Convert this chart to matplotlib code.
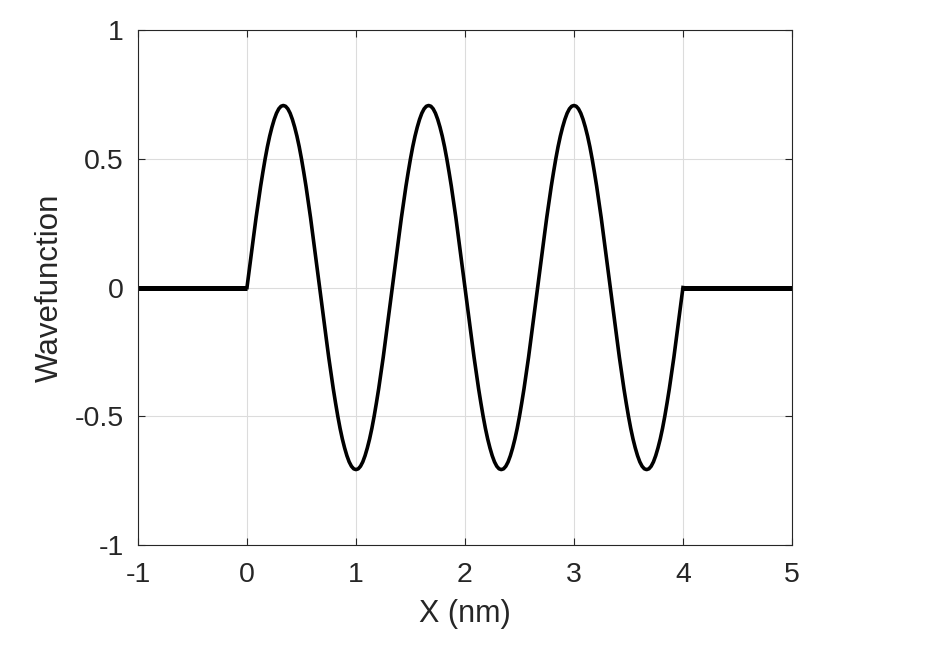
import numpy as np
import matplotlib
matplotlib.use("Agg")
import matplotlib.pyplot as plt

plt.rcParams['font.family'] = ['Liberation Sans', 'DejaVu Sans']

half_up = [0.0, 0.069, 0.138, 0.204, 0.271, 0.333, 0.393, 0.448, 0.500,
           0.547, 0.588, 0.623, 0.653, 0.677, 0.694, 0.704, 0.707,
           0.704, 0.694, 0.677, 0.653, 0.623, 0.588, 0.547, 0.500,
           0.448, 0.393, 0.333, 0.271, 0.204, 0.138, 0.069]
half_dn = [-v for v in half_up]
psi_in = half_up + half_dn + half_up + half_dn + half_up + half_dn + [0.0]
x_in = np.linspace(0, 4, len(psi_in))

# outside the well
x_left = [-1, 0]
psi_left = [0, 0]
x_right = [4, 5]
psi_right = [0, 0]

xticks = [-1, 0, 1, 2, 3, 4, 5]
yticks = [-1, -0.5, 0, 0.5, 1]
yticklabels = ['-1', '-0.5', '0', '0.5', '1']

fig = plt.figure(figsize=(9.38, 6.46), dpi=100)
ax = fig.add_axes([0.1471, 0.1563, 0.6972, 0.7972])

ax.plot(x_left, psi_left, color='k', lw=3.6, solid_capstyle='butt')
ax.plot(x_right, psi_right, color='k', lw=3.6, solid_capstyle='butt')
ax.plot(x_in, psi_in, color='k', lw=2.6, solid_joinstyle='round')

ax.set_xlim(-1, 5)
ax.set_ylim(-1, 1)
ax.set_xticks(xticks)
ax.set_xticklabels([str(t) for t in xticks])
ax.set_yticks(yticks)
ax.set_yticklabels(yticklabels)
ax.grid(True, color='#dcdcdc', lw=0.8)
ax.set_axisbelow(True)
ax.tick_params(direction='in', top=True, right=True, length=5, width=0.8,
               labelsize=20.5, colors='#262626')
ax.tick_params(axis='x', pad=12)
ax.tick_params(axis='y', pad=10)
for s in ax.spines.values():
    s.set_color('#262626')
    s.set_linewidth(0.8)

ax.set_xlabel('X (nm)', fontsize=22, color='#262626', labelpad=8)
ax.set_ylabel('Wavefunction', fontsize=22.5, color='#262626', labelpad=7)

fig.savefig('out.png', dpi=100)
